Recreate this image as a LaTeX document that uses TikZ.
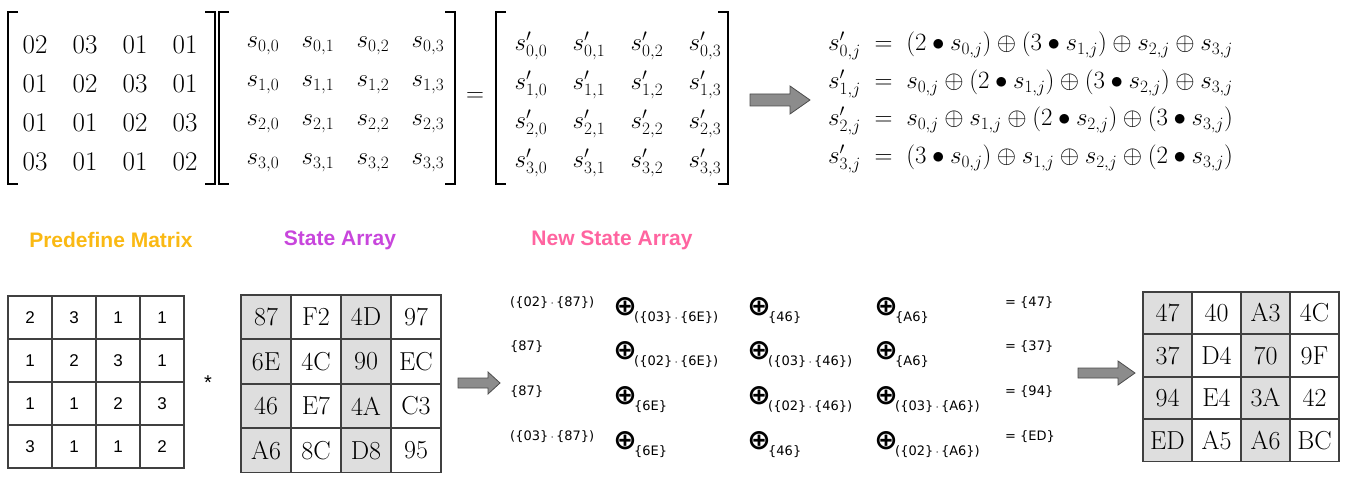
\documentclass[tikz,border=0pt]{standalone}
\usepackage{fontspec}
\newfontfamily\lib{Liberation Sans}
\newfontfamily\dv{DejaVu Sans}
\begin{document}
\begin{tikzpicture}[x=1pt,y=-1pt,
 mat/.style={font=\fontsize{27}{30}\selectfont,inner sep=0pt},
 eq/.style={font=\fontsize{26}{30}\selectfont,anchor=west,inner sep=0pt},
 lbl/.style={font=\lib\bfseries\fontsize{21}{24}\selectfont,inner sep=0pt},
 cell/.style={draw=black!75,line width=1.3pt,minimum width=#1,inner sep=0pt},
 ex/.style={font=\dv\fontsize{13}{15}\selectfont,anchor=west,inner sep=0pt},
 ox/.style={font=\dv\bfseries\fontsize{28}{30}\selectfont,inner sep=0pt},
 blk/.style={fill=black!45,draw=black!70,line width=0.8pt}]
\useasboundingbox (0,0) rectangle (1352,484);
% top matrices
\draw[line width=1.2pt] (18,12) -- (8,12) -- (8,184) -- (18,184);
\draw[line width=1.2pt] (205,12) -- (215,12) -- (215,184) -- (205,184);
\draw[line width=1.2pt] (229,12) -- (219,12) -- (219,184) -- (229,184);
\draw[line width=1.2pt] (445,12) -- (455,12) -- (455,184) -- (445,184);
\draw[line width=1.2pt] (506,12) -- (496,12) -- (496,184) -- (506,184);
\draw[line width=1.2pt] (718,12) -- (728,12) -- (728,184) -- (718,184);
\foreach \vals [count=\i from 0] in {{02,03,01,01},{01,02,03,01},{01,01,02,03},{03,01,01,02}}{
  \foreach \v [count=\c from 0] in \vals {
    \node[mat] (m\i\c) at (35+50*\c,45+39*\i) {\v};
    \node[mat] (s\i\c) at (263+55*\c,46+39*\i) {$s_{\i,\c}$};
    \node[mat] (n\i\c) at (531+58*\c,46+39*\i) {$s'_{\i,\c}$};
  }}
\node[mat] (eqs) at (475,97) {$=$};
\draw[blk] (750,94) -- (790,94) -- (790,86) -- (810,100) -- (790,114) -- (790,106) -- (750,106) -- cycle;
\node[eq] (e0) at (828,46) {$s'_{0,j}\;=\;(2\bullet s_{0,j})\oplus(3\bullet s_{1,j})\oplus s_{2,j}\oplus s_{3,j}$};
\node[eq] (e1) at (828,84) {$s'_{1,j}\;=\;s_{0,j}\oplus(2\bullet s_{1,j})\oplus(3\bullet s_{2,j})\oplus s_{3,j}$};
\node[eq] (e2) at (828,121) {$s'_{2,j}\;=\;s_{0,j}\oplus s_{1,j}\oplus(2\bullet s_{2,j})\oplus(3\bullet s_{3,j})$};
\node[eq] (e3) at (828,159) {$s'_{3,j}\;=\;(3\bullet s_{0,j})\oplus s_{1,j}\oplus s_{2,j}\oplus(2\bullet s_{3,j})$};
% labels
\node[lbl,text={rgb,255:red,250;green,185;blue,20}] (l1) at (111,240) {Predefine Matrix};
\node[lbl,text={rgb,255:red,200;green,70;blue,220}] (l2) at (340,240) {State Array};
\node[lbl,text={rgb,255:red,255;green,100;blue,160}] (l3) at (612,240) {New State Array};
% predefined table
\foreach \vals [count=\i from 0] in {{2,3,1,1},{1,2,3,1},{1,1,2,3},{3,1,1,2}}{
  \foreach \v [count=\c from 0] in \vals {
    \node[cell=44pt,minimum height=43pt,font=\lib\fontsize{17}{19}\selectfont] (p\i\c) at (30+44*\c,317.5+43*\i) {\v};}}
\node[font=\lib\fontsize{20}{22}\selectfont] (star) at (208,383) {*};
% state table
\foreach \vals [count=\i from 0] in {{87,F2,4D,97},{6E,4C,90,EC},{46,E7,4A,C3},{A6,8C,D8,95}}{
  \foreach \v [count=\c from 0] in \vals {
    \pgfmathsetmacro{\sh}{int(mod(\c,2)==0 ? 1 : 0)}
    \ifnum\sh=1 \def\fc{black!13}\else\def\fc{white}\fi
    \node[cell=50pt,minimum height=44pt,fill=\fc,font=\fontsize{26}{28}\selectfont] (t\i\c) at (266+50*\c,317+44.5*\i) {\v};}}
\draw[blk] (458,378) -- (488,378) -- (488,372) -- (500,383) -- (488,394) -- (488,388) -- (458,388) -- cycle;
% expressions
\def\dt{\,$\cdot$\,}
\foreach \y/\a/\b/\c/\d/\r [count=\k] in {303/(\{02\}\dt\{87\})/(\{03\}\dt\{6E\})/\{46\}/\{A6\}/\{47\},
  347/\{87\}/(\{02\}\dt\{6E\})/(\{03\}\dt\{46\})/\{A6\}/\{37\},
  392/\{87\}/\{6E\}/(\{02\}\dt\{46\})/(\{03\}\dt\{A6\})/\{94\},
  437/(\{03\}\dt\{87\})/\{6E\}/\{46\}/(\{02\}\dt\{A6\})/\{ED\}}{
  \node[ex] (xa\k) at (510,\y) {\a};
  \node[ox] (o1\k) at (625,\y+4) {⊕};
  \node[ex] (xb\k) at (634,\y+15) {\b};
  \node[ox] (o2\k) at (759,\y+4) {⊕};
  \node[ex] (xc\k) at (768,\y+15) {\c};
  \node[ox] (o3\k) at (886,\y+4) {⊕};
  \node[ex] (xd\k) at (895,\y+15) {\d};
  \node[ex] (xr\k) at (1005,\y) {= \r};
}
\draw[blk] (1078,368) -- (1118,368) -- (1118,361) -- (1135,373) -- (1118,385) -- (1118,378) -- (1078,378) -- cycle;
% new state table
\foreach \vals [count=\i from 0] in {{47,40,A3,4C},{37,D4,70,9F},{94,E4,3A,42},{ED,A5,A6,BC}}{
  \foreach \v [count=\c from 0] in \vals {
    \pgfmathsetmacro{\sh}{int(mod(\c,2)==0 ? 1 : 0)}
    \ifnum\sh=1 \def\fc{black!13}\else\def\fc{white}\fi
    \node[cell=49pt,minimum height=42pt,fill=\fc,font=\fontsize{26}{28}\selectfont] (u\i\c) at (1167.5+49*\c,313+42.5*\i) {\v};}}
\end{tikzpicture}
\end{document}
